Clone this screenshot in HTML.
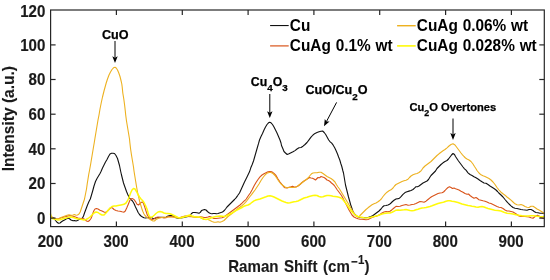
<!DOCTYPE html>
<html><head><meta charset="utf-8"><title>Raman</title>
<style>
html,body{margin:0;padding:0;background:#fff;}
svg{display:block;font-family:"Liberation Sans",sans-serif;font-weight:bold;fill:#1a1a1a;}

.tk{font-size:15.1px;stroke:#1a1a1a;stroke-width:0.15px;}
.lb{font-size:15.55px;stroke:#1a1a1a;stroke-width:0.12px;}
.an{font-size:12.3px;fill:#000;stroke:#000;stroke-width:0.25px;}
.lg{font-size:15.57px;fill:#000;word-spacing:0.5px;}
.c{fill:none;stroke-linejoin:round;stroke-linecap:round;}
</style></head><body>
<svg width="550" height="280" viewBox="0 0 550 280">
<rect width="550" height="280" fill="#fff"/>
<g class="c" stroke-width="1.1">
<path d="M50.5,217.5 L54.0,218.0 L55.5,220.5 L57.0,222.2 L58.5,223.3 L60.0,223.0 L61.5,221.8 L63.0,220.8 L64.5,220.0 L66.0,219.0 L68.0,218.2 L69.5,218.8 L71.0,220.0 L73.0,220.8 L74.5,220.5 L76.0,221.0 L77.5,220.5 L79.0,219.5 L81.0,219.0 L82.5,218.0 L83.5,216.0 L84.5,213.0 L86.0,209.0 L87.5,205.0 L89.0,201.5 L90.3,199.0 L91.5,195.0 L92.8,190.5 L94.0,186.0 L95.5,181.5 L97.0,178.5 L98.5,176.0 L100.0,173.5 L101.0,171.5 L102.5,168.0 L104.0,165.0 L105.5,162.0 L107.0,159.5 L108.5,156.5 L110.0,154.0 L111.5,153.2 L113.0,153.2 L114.5,153.5 L116.0,155.5 L117.5,158.5 L118.5,162.0 L119.5,165.5 L120.2,169.0 L120.6,171.0 L121.5,175.0 L122.5,179.0 L123.5,183.0 L125.0,187.2 L126.5,191.5 L128.0,195.0 L129.5,198.0 L131.0,199.7 L132.5,201.0 L134.0,203.5 L135.5,207.0 L137.0,210.0 L138.0,212.2 L139.5,214.5 L141.0,216.0 L142.5,217.0 L144.0,217.8 L145.5,218.0 L147.0,217.8 L150.0,217.5 L151.5,217.5 L153.0,218.5 L154.5,218.5 L156.0,218.0 L158.0,217.5 L160.0,217.3 L162.0,217.2 L164.0,217.5 L166.0,217.2 L168.0,216.0 L170.0,215.5 L172.0,215.5 L174.0,216.5 L176.0,217.8 L178.0,218.2 L181.0,218.0 L184.0,217.5 L186.0,217.0 L188.0,216.5 L190.0,215.5 L191.5,213.5 L193.0,212.5 L195.0,212.5 L197.0,212.8 L199.0,213.3 L200.3,212.4 L201.5,210.6 L203.0,210.0 L204.5,209.5 L206.0,210.0 L207.5,211.5 L209.0,212.8 L210.5,213.5 L212.0,213.8 L213.5,213.5 L215.0,213.5 L216.5,213.8 L218.0,213.5 L219.5,213.0 L221.0,212.5 L222.5,212.0 L224.0,210.8 L225.5,209.0 L227.0,207.0 L228.5,205.5 L230.0,204.0 L231.5,202.5 L233.0,201.0 L234.5,199.5 L236.0,197.8 L237.5,195.8 L239.5,193.0 L242.0,187.5 L244.5,182.0 L247.0,177.0 L249.5,171.8 L250.8,167.8 L252.2,164.5 L253.5,161.0 L254.5,157.5 L255.5,154.0 L256.5,150.5 L257.5,147.0 L258.5,143.7 L259.5,140.0 L261.0,136.5 L262.5,133.5 L264.0,130.0 L265.5,127.0 L267.0,124.5 L268.5,122.8 L269.7,122.2 L271.0,122.8 L272.5,124.5 L274.0,127.0 L275.5,130.0 L277.0,133.0 L278.5,136.5 L280.0,140.0 L281.0,143.0 L281.5,145.5 L282.8,148.5 L284.0,151.5 L285.5,153.0 L287.2,154.5 L289.0,153.8 L291.0,152.8 L293.0,151.8 L295.0,150.6 L297.0,149.0 L299.0,147.8 L301.0,147.5 L303.0,146.2 L305.0,144.5 L307.0,142.5 L309.0,139.8 L311.0,137.2 L313.0,135.0 L315.0,133.4 L317.0,132.5 L319.0,131.8 L321.0,131.2 L322.6,131.0 L324.2,132.5 L325.7,134.5 L327.2,137.2 L328.7,140.0 L330.2,141.8 L331.7,143.2 L333.2,145.2 L334.7,147.7 L336.0,150.5 L337.5,154.0 L338.6,157.0 L339.8,160.0 L340.8,163.5 L341.8,166.5 L342.8,170.5 L343.5,173.0 L344.5,179.0 L345.5,185.0 L346.5,189.0 L347.5,193.0 L348.5,197.0 L349.5,200.5 L350.6,204.5 L351.8,208.0 L352.8,211.0 L354.0,213.5 L355.5,215.0 L357.0,216.2 L358.5,217.0 L360.0,217.5 L364.0,217.8 L368.0,217.5 L371.0,216.5 L373.0,215.5 L375.0,214.0 L377.0,212.5 L379.0,211.0 L381.0,209.0 L382.5,207.0 L384.0,205.8 L386.0,205.5 L388.0,205.0 L389.5,204.3 L391.0,203.0 L392.5,201.5 L394.0,200.3 L396.0,199.0 L398.0,198.6 L399.5,198.2 L401.0,196.6 L403.0,194.3 L405.0,192.6 L407.0,191.7 L409.0,191.1 L411.0,190.5 L413.0,189.5 L414.5,188.2 L416.0,186.7 L417.5,186.8 L419.0,186.0 L421.0,184.5 L423.0,183.0 L425.0,182.0 L427.0,181.0 L428.5,179.5 L430.0,177.0 L431.0,175.5 L432.5,174.0 L434.0,172.5 L435.5,171.0 L437.0,168.5 L439.0,166.5 L441.0,164.5 L443.0,162.8 L445.0,161.5 L447.0,160.5 L448.5,159.0 L450.0,157.0 L451.5,155.0 L453.0,153.5 L454.5,154.5 L455.5,156.5 L457.0,158.8 L458.5,161.0 L460.0,163.0 L461.5,165.0 L463.0,167.0 L464.5,168.8 L466.0,170.2 L468.0,172.8 L470.0,174.5 L472.0,175.5 L474.0,176.8 L476.0,177.8 L478.0,179.0 L480.0,180.5 L482.0,181.8 L484.0,183.0 L486.0,183.2 L488.0,184.5 L490.0,186.0 L492.0,187.2 L494.0,188.5 L496.0,190.0 L497.5,191.5 L498.8,193.0 L501.0,195.0 L503.0,197.0 L505.0,199.5 L507.0,201.8 L509.0,204.0 L511.0,205.8 L513.0,207.5 L515.0,208.2 L517.0,208.5 L519.0,209.0 L521.0,209.5 L523.0,209.8 L525.0,210.0 L527.0,210.2 L529.0,209.5 L531.0,209.5 L533.0,210.5 L534.5,211.8 L536.0,212.5 L538.0,212.8 L540.0,213.2 L542.0,213.3 L544.0,213.5" stroke="#111"/>
<path d="M50.5,216.0 L54.0,218.5 L58.0,219.0 L62.0,217.5 L66.0,216.5 L70.0,215.5 L74.0,216.5 L78.0,218.0 L81.0,218.5 L83.0,218.5 L85.0,219.5 L86.5,221.0 L88.0,221.5 L89.5,220.5 L91.0,218.5 L92.0,216.0 L93.0,213.0 L94.0,210.5 L95.0,209.0 L96.5,208.5 L98.0,209.0 L100.0,210.3 L102.0,211.0 L104.0,212.0 L105.5,212.5 L107.0,211.5 L109.0,209.5 L111.0,207.5 L112.5,208.0 L114.0,209.5 L116.0,210.5 L118.0,211.0 L120.0,211.2 L122.0,211.8 L124.0,212.2 L125.3,211.0 L126.7,208.0 L128.2,204.5 L129.7,200.8 L131.0,198.7 L132.5,198.6 L134.0,199.5 L135.5,201.6 L137.0,204.2 L138.5,205.0 L140.0,203.5 L141.5,202.2 L142.5,202.0 L143.5,203.5 L144.5,206.2 L145.5,209.5 L146.5,212.5 L147.5,215.5 L149.0,217.5 L150.5,219.0 L152.0,219.5 L154.0,219.0 L156.0,217.5 L158.0,217.0 L160.0,217.5 L162.0,217.5 L164.0,218.0 L166.0,217.8 L168.0,216.5 L172.0,216.6 L176.0,217.2 L180.0,217.5 L183.0,216.8 L185.0,216.2 L187.0,216.0 L190.0,216.3 L193.0,216.8 L196.0,217.0 L199.0,217.3 L200.0,216.7 L202.0,217.0 L204.0,217.5 L206.0,217.5 L208.0,217.0 L209.5,216.5 L211.0,217.0 L212.5,217.8 L214.0,218.5 L216.0,218.5 L218.0,218.2 L220.0,218.0 L222.0,217.8 L224.0,217.0 L226.0,215.5 L228.0,214.0 L230.0,212.5 L232.0,211.0 L234.0,209.5 L236.0,208.0 L238.0,206.5 L240.0,205.0 L242.0,203.2 L244.0,201.2 L245.5,199.8 L246.2,199.0 L248.0,196.3 L250.3,193.0 L252.0,190.0 L254.0,186.0 L256.0,182.5 L258.0,179.5 L260.0,176.8 L262.0,175.0 L264.0,173.8 L266.0,172.8 L268.0,171.8 L270.0,171.5 L272.0,171.8 L274.0,173.5 L276.0,175.5 L278.0,179.0 L280.0,182.0 L282.0,184.5 L283.5,186.5 L285.0,187.8 L287.0,188.0 L289.0,187.2 L291.0,186.8 L292.5,186.2 L294.0,187.0 L296.0,187.0 L298.0,186.0 L300.0,184.5 L302.0,182.5 L304.0,181.0 L306.0,179.8 L308.0,178.5 L309.5,177.5 L311.0,178.0 L312.5,178.2 L314.0,179.0 L315.5,180.0 L317.0,178.5 L318.0,177.5 L319.5,177.8 L321.0,176.5 L322.5,177.0 L324.0,177.5 L325.5,178.5 L327.0,180.0 L328.5,180.5 L330.0,181.5 L331.5,183.0 L333.0,184.2 L334.3,185.5 L335.7,187.5 L337.0,189.5 L338.5,191.5 L340.0,193.5 L341.5,195.5 L343.0,198.3 L344.5,201.2 L346.0,204.0 L347.5,207.0 L349.0,210.0 L350.5,212.5 L352.0,215.0 L354.0,217.0 L356.0,218.0 L358.0,218.8 L360.0,219.2 L362.0,219.3 L364.0,219.5 L366.0,219.7 L368.0,219.5 L370.0,218.5 L372.0,217.5 L374.0,216.8 L376.0,216.2 L378.0,215.5 L380.0,214.5 L382.0,213.0 L384.0,212.0 L386.0,211.5 L388.0,211.8 L390.0,211.3 L392.0,209.7 L394.0,208.0 L396.0,206.4 L398.0,206.5 L400.0,206.2 L402.0,205.5 L404.0,205.0 L406.0,204.5 L408.0,205.2 L410.0,205.0 L412.0,204.5 L414.0,204.2 L416.0,203.5 L418.0,202.5 L420.0,201.5 L422.0,201.8 L424.0,202.2 L426.0,201.2 L428.0,199.5 L430.0,197.8 L432.0,196.5 L434.0,195.5 L436.0,194.5 L438.0,193.5 L440.0,193.0 L442.0,192.8 L443.5,192.0 L445.0,190.5 L446.5,188.8 L448.0,187.5 L449.5,186.8 L451.0,187.5 L452.5,188.5 L454.0,188.0 L455.5,188.8 L457.0,189.2 L459.0,190.0 L461.0,191.2 L463.0,192.2 L465.0,193.5 L467.0,194.2 L468.5,194.0 L470.0,195.5 L472.0,197.0 L474.0,198.2 L476.0,197.5 L477.5,198.5 L479.0,199.8 L481.0,200.2 L483.0,200.8 L485.0,201.2 L487.0,202.0 L489.0,203.0 L491.0,203.5 L493.0,204.5 L495.0,205.5 L497.0,206.5 L499.0,207.2 L501.0,207.5 L503.0,208.5 L505.0,210.0 L507.0,211.0 L509.0,211.0 L511.0,211.5 L513.0,212.0 L515.0,213.2 L517.0,214.5 L519.0,216.0 L521.0,216.5 L523.0,216.3 L525.0,216.5 L527.0,216.8 L529.0,217.0 L531.0,217.8 L533.0,218.2 L534.5,217.0 L536.0,215.8 L537.5,215.3 L539.0,216.0 L541.0,217.5 L543.0,218.2 L544.0,218.5" stroke="#D95319"/>
<path d="M50.5,215.5 L52.0,217.5 L54.0,218.5 L56.0,219.0 L58.0,218.7 L59.0,218.5 L61.0,217.5 L63.0,216.8 L65.0,216.0 L67.0,215.3 L69.0,214.8 L71.0,215.3 L73.0,215.0 L74.5,214.5 L76.0,215.2 L77.5,215.0 L79.0,214.0 L80.2,212.0 L81.2,209.0 L82.2,206.0 L83.2,203.0 L84.2,200.0 L84.5,199.0 L85.5,194.0 L86.5,189.0 L87.2,184.0 L88.0,179.0 L88.8,174.0 L89.4,171.0 L90.5,165.0 L91.5,159.0 L92.5,153.0 L93.5,147.0 L94.2,143.0 L95.0,138.0 L96.0,132.0 L97.0,126.0 L98.0,120.0 L99.0,115.0 L100.0,109.0 L101.2,103.0 L102.5,97.0 L104.0,91.0 L105.1,87.0 L106.2,83.0 L107.5,79.0 L109.0,75.0 L110.5,72.0 L112.0,69.5 L113.5,67.8 L115.0,67.2 L116.2,68.0 L117.5,70.0 L118.8,73.0 L120.0,76.5 L121.0,80.5 L121.8,84.0 L122.2,87.0 L122.8,93.0 L123.8,99.0 L124.6,105.0 L125.3,111.0 L125.7,115.0 L126.5,121.0 L127.5,127.0 L128.5,133.0 L129.5,139.0 L129.9,143.0 L130.6,149.0 L131.5,155.0 L132.5,161.0 L133.5,167.0 L134.0,171.0 L134.8,176.0 L135.7,181.5 L136.6,187.0 L137.5,192.0 L138.5,196.5 L139.3,200.0 L140.2,203.5 L141.2,206.5 L142.2,209.8 L143.0,211.8 L144.0,214.0 L145.0,215.5 L146.5,217.0 L148.0,218.0 L149.5,219.0 L150.0,219.2 L151.5,220.3 L153.0,221.0 L154.5,221.0 L156.0,219.5 L158.0,218.5 L160.0,218.0 L162.0,217.5 L164.0,217.0 L166.0,217.3 L169.0,217.0 L172.0,217.0 L175.0,217.5 L178.0,218.0 L181.0,217.3 L183.0,216.5 L185.0,216.0 L187.0,216.5 L190.0,216.8 L193.0,217.0 L196.0,217.5 L199.0,217.5 L200.0,217.5 L202.0,218.5 L204.0,219.5 L208.0,219.5 L210.0,220.5 L212.0,221.5 L214.0,222.2 L216.0,222.2 L218.0,221.8 L220.0,222.2 L222.0,221.5 L224.0,220.5 L226.0,218.5 L228.0,216.5 L230.0,215.0 L232.0,213.5 L234.0,211.8 L236.0,210.2 L238.0,208.5 L240.0,207.2 L242.0,205.6 L244.0,203.8 L245.5,202.3 L247.0,200.5 L248.0,199.2 L250.0,196.5 L251.5,194.7 L253.0,192.7 L255.0,190.0 L257.0,187.0 L259.0,184.0 L261.0,180.5 L263.0,177.5 L265.0,175.0 L267.0,173.2 L269.0,172.5 L271.0,172.5 L273.0,173.5 L275.0,175.5 L277.0,178.5 L279.0,181.5 L281.0,184.0 L283.0,185.5 L285.0,187.0 L287.0,187.8 L289.0,187.5 L291.0,187.2 L293.0,187.5 L295.0,187.2 L297.0,186.5 L299.0,185.0 L301.0,183.5 L303.0,182.0 L305.0,180.5 L307.0,179.0 L308.5,177.5 L310.0,175.5 L311.5,173.8 L313.0,173.0 L315.0,172.8 L317.0,172.8 L319.0,172.2 L321.0,172.2 L323.0,173.5 L325.0,175.0 L327.0,176.5 L329.0,177.5 L331.0,178.5 L333.0,180.0 L335.0,182.0 L336.5,184.8 L338.0,187.0 L339.5,189.0 L341.0,191.5 L342.5,194.0 L344.0,196.5 L345.5,199.0 L347.0,201.5 L348.5,204.0 L350.0,206.5 L351.5,209.0 L353.0,211.2 L354.0,213.0 L355.0,215.0 L356.5,216.3 L358.0,217.0 L359.0,217.0 L360.0,215.5 L362.0,213.5 L364.0,211.5 L366.0,209.5 L368.0,207.8 L370.0,206.2 L372.0,204.8 L374.0,203.8 L376.0,203.0 L378.0,201.8 L380.0,200.2 L381.3,199.0 L383.0,196.5 L385.0,194.2 L387.0,192.2 L389.0,190.8 L391.0,189.8 L393.0,188.0 L394.5,186.0 L396.0,184.5 L398.0,183.5 L400.0,182.5 L402.0,181.5 L404.0,180.8 L406.0,180.2 L408.0,179.2 L409.5,177.5 L411.0,176.0 L413.0,174.8 L415.0,174.0 L417.0,173.5 L419.0,172.5 L420.5,171.3 L421.5,170.3 L423.0,168.0 L425.0,166.0 L427.0,164.5 L429.0,163.0 L431.0,161.5 L433.0,159.5 L435.0,157.5 L437.0,155.5 L439.0,153.8 L441.0,152.2 L443.0,150.8 L445.0,149.5 L447.0,147.8 L449.0,146.0 L451.0,144.5 L453.0,143.8 L455.0,145.0 L456.5,147.0 L458.0,149.0 L459.5,151.0 L461.0,153.0 L462.5,154.8 L464.0,156.5 L465.5,158.0 L467.0,159.0 L469.0,160.0 L471.0,161.5 L473.0,164.0 L474.5,166.5 L476.0,168.7 L477.0,170.5 L479.0,173.0 L481.0,174.8 L483.0,175.8 L485.0,176.5 L487.0,177.5 L489.0,178.5 L491.0,180.0 L493.0,182.0 L495.0,184.5 L497.0,187.5 L499.0,190.0 L501.0,192.2 L503.0,193.8 L505.0,195.2 L507.0,197.0 L509.0,198.5 L511.0,200.2 L513.0,202.0 L515.0,203.8 L517.0,204.8 L519.0,205.0 L521.0,204.5 L523.0,205.3 L525.0,206.5 L527.0,207.2 L529.0,207.5 L531.0,206.2 L533.0,206.2 L535.0,207.5 L537.0,209.0 L539.0,210.0 L541.0,211.2 L543.0,212.5 L544.0,213.2" stroke="#EDB120"/>
<path d="M50.5,214.0 L51.0,216.5 L52.0,218.5 L54.0,219.0 L56.0,219.5 L58.0,220.0 L60.0,219.8 L62.0,219.0 L64.0,218.5 L66.0,218.0 L68.0,217.5 L70.0,217.0 L72.0,217.3 L74.0,217.7 L76.0,218.5 L78.0,219.0 L80.0,219.0 L82.0,219.5 L84.0,220.0 L86.0,219.5 L88.0,218.5 L90.0,217.0 L92.0,215.0 L94.0,213.0 L96.0,212.0 L98.0,212.5 L100.0,214.0 L102.0,215.0 L104.0,215.0 L106.0,213.0 L108.0,210.5 L110.0,208.0 L112.0,206.5 L114.0,206.0 L116.0,205.9 L118.0,205.5 L121.0,204.9 L124.0,204.3 L126.0,203.0 L127.5,200.7 L129.0,197.5 L130.5,193.3 L132.0,190.0 L133.5,188.5 L135.0,189.0 L136.5,191.5 L138.0,194.5 L139.5,197.0 L141.0,199.0 L142.5,200.5 L144.0,202.5 L145.5,205.5 L147.0,209.0 L148.0,212.5 L149.0,215.5 L150.0,217.0 L151.5,217.2 L153.0,216.3 L154.5,215.0 L156.0,213.5 L158.0,212.0 L160.0,211.5 L162.0,212.0 L164.0,213.0 L166.0,213.5 L168.0,213.5 L170.0,213.8 L172.0,214.5 L174.0,215.5 L176.0,216.5 L178.0,217.5 L180.0,218.0 L182.0,217.5 L184.0,217.0 L186.0,216.5 L188.0,215.5 L190.0,215.0 L192.0,216.0 L194.0,216.5 L196.0,216.8 L198.0,217.0 L200.0,217.1 L202.0,218.0 L204.0,219.0 L206.0,219.5 L208.0,219.0 L210.0,218.5 L212.0,217.5 L214.0,217.0 L216.0,216.5 L218.0,216.2 L220.0,216.0 L222.0,216.2 L224.0,216.5 L226.0,216.0 L228.0,215.0 L230.0,214.0 L232.0,213.0 L234.0,211.8 L236.0,210.5 L238.0,209.5 L240.0,208.5 L242.0,207.5 L244.0,206.2 L246.0,205.5 L248.0,205.0 L250.0,204.0 L252.0,202.3 L254.0,200.9 L256.0,200.0 L258.0,199.5 L260.0,199.0 L262.0,198.2 L264.0,197.5 L266.0,196.8 L268.0,196.0 L270.0,195.8 L272.0,196.2 L274.0,197.0 L276.0,198.0 L278.0,199.0 L280.0,200.0 L282.0,201.0 L284.0,201.8 L286.0,202.5 L288.0,203.0 L290.0,202.8 L292.0,202.2 L294.0,201.8 L296.0,201.5 L298.0,201.0 L300.0,200.0 L302.0,199.0 L304.0,198.0 L305.0,197.7 L307.0,197.2 L309.0,196.5 L311.0,196.0 L313.0,195.5 L315.0,195.2 L317.0,195.5 L319.0,196.5 L321.0,197.0 L323.0,196.8 L325.0,196.0 L327.0,195.5 L329.0,195.5 L331.0,195.8 L333.0,196.2 L335.0,196.5 L337.0,196.8 L339.0,197.2 L341.0,198.0 L342.5,199.3 L344.0,201.0 L346.0,203.5 L348.0,206.3 L350.0,209.2 L352.0,211.8 L354.0,214.0 L356.0,215.5 L358.0,216.5 L360.0,217.0 L362.0,217.3 L364.0,217.7 L366.0,218.0 L368.0,217.8 L370.0,217.5 L372.0,217.0 L374.0,216.5 L376.0,216.0 L378.0,215.5 L380.0,214.8 L382.0,214.0 L384.0,213.5 L386.0,213.2 L388.0,213.0 L390.0,213.0 L392.0,212.2 L394.0,211.3 L396.0,210.2 L398.0,210.0 L400.0,210.2 L402.0,210.0 L404.0,209.8 L406.0,209.5 L408.0,210.0 L410.0,210.5 L412.0,210.8 L414.0,210.5 L416.0,209.8 L418.0,209.2 L420.0,208.5 L422.0,208.0 L424.0,207.8 L426.0,207.5 L428.0,207.0 L430.0,206.5 L432.0,205.8 L434.0,205.0 L436.0,204.2 L438.0,203.5 L440.0,203.0 L442.0,202.6 L444.0,202.0 L446.0,201.2 L448.0,200.8 L450.0,200.8 L452.0,201.2 L454.0,201.5 L456.0,202.0 L458.0,202.5 L460.0,203.2 L462.0,204.0 L464.0,204.5 L466.0,205.0 L468.0,205.5 L470.0,205.8 L472.0,206.2 L474.0,206.5 L476.0,207.0 L478.0,207.2 L480.0,206.8 L482.0,206.5 L484.0,207.0 L486.0,207.8 L488.0,208.5 L490.0,209.0 L492.0,209.5 L494.0,210.0 L495.0,210.2 L498.0,210.5 L501.0,211.0 L504.0,212.2 L507.0,213.2 L510.0,213.5 L513.0,214.0 L516.0,214.8 L519.0,215.3 L522.0,215.7 L525.0,216.0 L528.0,216.0 L531.0,215.8 L534.0,215.8 L537.0,216.2 L540.0,216.5 L543.0,216.7 L544.0,216.7" stroke="#FFFA0A" stroke-width="1.5"/>
</g>
<g stroke="#262626" stroke-width="1.2" fill="none">
<rect x="50.6" y="10.0" width="493.69999999999993" height="216.6"/>
<line x1="116.4" y1="226.6" x2="116.4" y2="221.6"/><line x1="116.4" y1="10.0" x2="116.4" y2="15.0"/><line x1="182.3" y1="226.6" x2="182.3" y2="221.6"/><line x1="182.3" y1="10.0" x2="182.3" y2="15.0"/><line x1="248.1" y1="226.6" x2="248.1" y2="221.6"/><line x1="248.1" y1="10.0" x2="248.1" y2="15.0"/><line x1="313.9" y1="226.6" x2="313.9" y2="221.6"/><line x1="313.9" y1="10.0" x2="313.9" y2="15.0"/><line x1="379.7" y1="226.6" x2="379.7" y2="221.6"/><line x1="379.7" y1="10.0" x2="379.7" y2="15.0"/><line x1="445.6" y1="226.6" x2="445.6" y2="221.6"/><line x1="445.6" y1="10.0" x2="445.6" y2="15.0"/><line x1="511.4" y1="226.6" x2="511.4" y2="221.6"/><line x1="511.4" y1="10.0" x2="511.4" y2="15.0"/><line x1="50.6" y1="218.1" x2="55.6" y2="218.1"/><line x1="544.3" y1="218.1" x2="539.3" y2="218.1"/><line x1="50.6" y1="183.5" x2="55.6" y2="183.5"/><line x1="544.3" y1="183.5" x2="539.3" y2="183.5"/><line x1="50.6" y1="148.8" x2="55.6" y2="148.8"/><line x1="544.3" y1="148.8" x2="539.3" y2="148.8"/><line x1="50.6" y1="114.2" x2="55.6" y2="114.2"/><line x1="544.3" y1="114.2" x2="539.3" y2="114.2"/><line x1="50.6" y1="79.5" x2="55.6" y2="79.5"/><line x1="544.3" y1="79.5" x2="539.3" y2="79.5"/><line x1="50.6" y1="44.9" x2="55.6" y2="44.9"/><line x1="544.3" y1="44.9" x2="539.3" y2="44.9"/>
</g>
<g class="tk"><text transform="translate(50.3,247.1) scale(1,1.05)" text-anchor="middle">200</text><text transform="translate(116.1,247.1) scale(1,1.05)" text-anchor="middle">300</text><text transform="translate(182.0,247.1) scale(1,1.05)" text-anchor="middle">400</text><text transform="translate(247.8,247.1) scale(1,1.05)" text-anchor="middle">500</text><text transform="translate(313.6,247.1) scale(1,1.05)" text-anchor="middle">600</text><text transform="translate(379.4,247.1) scale(1,1.05)" text-anchor="middle">700</text><text transform="translate(445.3,247.1) scale(1,1.05)" text-anchor="middle">800</text><text transform="translate(511.1,247.1) scale(1,1.05)" text-anchor="middle">900</text><text transform="translate(45.4,224.0) scale(1,1.05)" text-anchor="end">0</text><text transform="translate(45.4,189.1) scale(1,1.05)" text-anchor="end">20</text><text transform="translate(45.4,155.0) scale(1,1.05)" text-anchor="end">40</text><text transform="translate(45.4,119.8) scale(1,1.05)" text-anchor="end">60</text><text transform="translate(45.4,85.0) scale(1,1.05)" text-anchor="end">80</text><text transform="translate(45.4,50.5) scale(1,1.05)" text-anchor="end">100</text><text transform="translate(45.4,16.6) scale(1,1.05)" text-anchor="end">120</text></g>
<g class="lb"><text transform="translate(228.2,271.5) scale(0.97,1.07)">Raman</text><text transform="translate(283.9,271.5) scale(0.97,1.07)">Shift</text><text transform="translate(323.0,271.5) scale(0.97,1.07)">(cm<tspan dx="1.3" dy="-5.6" font-size="11.8">−</tspan><tspan dx="0.2" dy="-1.4" font-size="11.8">1</tspan><tspan dx="0.3" dy="7">)</tspan></text></g>
<text class="lb" transform="translate(14.3,118.6) rotate(-90) scale(1,1.03)" text-anchor="middle">Intensity (a.u.)</text>
<g stroke="#000" stroke-width="1" fill="#000"><line x1="115.00" y1="41.00" x2="115.00" y2="57.70"/><path d="M115.00,63.00 L112.30,56.20 L115.00,57.70 L117.70,56.20Z" stroke="none"/><line x1="269.80" y1="94.00" x2="269.80" y2="112.80"/><path d="M269.80,118.10 L267.10,111.30 L269.80,112.80 L272.50,111.30Z" stroke="none"/><line x1="453.00" y1="118.50" x2="453.00" y2="134.60"/><path d="M453.00,139.90 L450.30,133.10 L453.00,134.60 L455.70,133.10Z" stroke="none"/><line x1="336.60" y1="102.40" x2="326.48" y2="121.52"/><path d="M324.00,126.20 L324.80,118.93 L326.48,121.52 L329.57,121.45Z" stroke="none"/></g>
<g class="an">
<text x="101.9" y="39" font-size="12.6">CuO</text>
<text x="250.8" y="85.8">Cu<tspan dy="5.2" font-size="9.8">4</tspan><tspan dy="-5.2">O</tspan><tspan dy="5.2" font-size="9.8">3</tspan></text>
<text x="305.4" y="94.4" font-size="12.6">CuO/Cu<tspan dy="5.2" font-size="9.8">2</tspan><tspan dy="-5.2">O</tspan></text>
<text x="409.5" y="110.6" font-size="11.15">Cu<tspan dy="5" font-size="8.9">2</tspan><tspan dy="-5">O Overtones</tspan></text>
</g>
<g stroke-width="1.1" fill="none">
<line x1="270.1" y1="25.55" x2="288.7" y2="25.55" stroke="#111"/>
<line x1="270.1" y1="45.9" x2="288.7" y2="45.9" stroke="#D95319" stroke-width="1.2"/>
<line x1="397.1" y1="25.7" x2="415.7" y2="25.7" stroke="#EDB120" stroke-width="1.45"/>
<line x1="397.1" y1="45.9" x2="415.7" y2="45.9" stroke="#FFFA0A" stroke-width="1.6"/>
</g>
<g class="lg">
<text transform="translate(289.8,31.4) scale(0.99,1.06)">Cu</text>
<text transform="translate(289.8,51.2) scale(0.99,1.06)">CuAg 0.1% wt</text>
<text transform="translate(416.8,31.4) scale(0.99,1.06)">CuAg 0.06% wt</text>
<text transform="translate(416.8,51.2) scale(0.99,1.06)">CuAg 0.028% wt</text>
</g>
</svg>
</body></html>
